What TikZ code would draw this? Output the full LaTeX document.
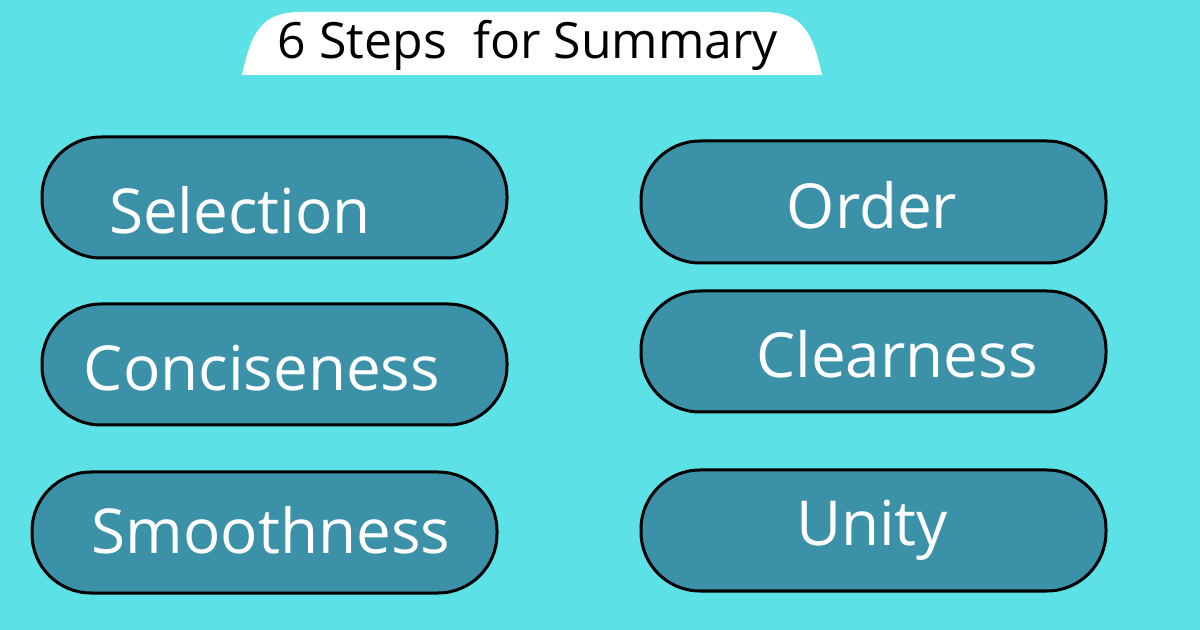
\documentclass[tikz,border=0pt]{standalone}
\usepackage{fontspec}
\setmainfont{Open Sans}
\definecolor{bg}{HTML}{5CE1E6}
\definecolor{boxc}{HTML}{3A91A8}
\begin{document}
\begin{tikzpicture}[x=0.5pt,y=-0.5pt,
  pill/.style={draw=black,line width=1.5pt,fill=boxc,rounded corners=29.5pt},
  lbl/.style={text=white,font=\fontsize{31}{36}\selectfont,anchor=center},
  ttl/.style={text=black,font=\fontsize{25}{30}\selectfont,anchor=center}]
\fill[bg] (0,0) rectangle (1200,630);
\useasboundingbox (0,0) rectangle (1200,630);
\fill[white] (242,75) .. controls (252,30) and (262,12) .. (302,12) -- (762,12) .. controls (802,12) and (812,30) .. (822,75) -- cycle;
\node[ttl] (title) at (528,45) {6 Steps\ \ for Summary};
\draw[pill] (42,137) rectangle (507,258);
\node[lbl] (sel) at (240,210) {Selection};
\draw[pill] (42,304) rectangle (507,425);
\node[lbl] (con) at (262,368) {Conciseness};
\draw[pill] (32,472) rectangle (497,593);
\node[lbl] (smo) at (271,530) {Smoothness};
\draw[pill] (641,141) rectangle (1106,263);
\node[lbl] (ord) at (872,205) {Order};
\draw[pill] (641,291) rectangle (1106,412);
\node[lbl] (cle) at (897,354) {Clearness};
\draw[pill] (641,470) rectangle (1106,591);
\node[lbl] (uni) at (872,530) {Unity};
\end{tikzpicture}
\end{document}
